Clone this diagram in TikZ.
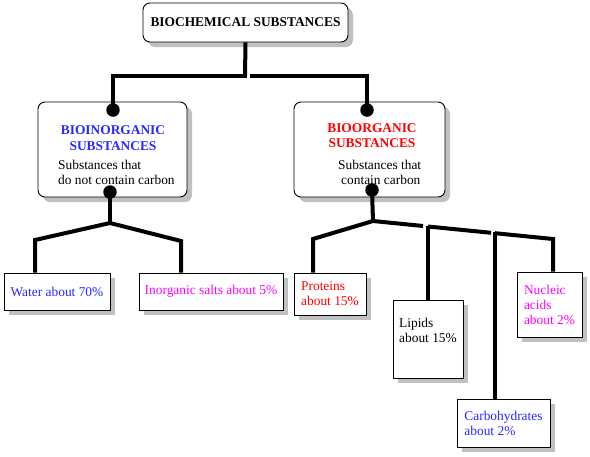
\documentclass[tikz,border=0pt]{standalone}
\usepackage{fontspec}
\setmainfont{Liberation Serif}
\usetikzlibrary{shadows}
\definecolor{shd}{RGB}{192,192,192}
\definecolor{tblue}{RGB}{40,40,255}
\definecolor{tmag}{RGB}{255,0,255}
\definecolor{tred}{RGB}{255,0,0}
\begin{document}
\begin{tikzpicture}[x=1pt,y=-1pt,
  font=\fontsize{13.4}{15}\selectfont,
  shadowed/.style={drop shadow={shadow xshift=5pt,shadow yshift=-5pt,fill=shd,opacity=1}},
  bigbox/.style={draw=black,line width=0.9pt,rounded corners=7pt,fill=white,shadowed,inner sep=0pt},
  smallbox/.style={draw=black,line width=0.9pt,fill=white,shadowed,inner sep=2pt,align=left},
  branch/.style={line width=4pt},
  dot/.style={circle,fill=black,inner sep=0pt,minimum size=13.5pt},
  titletext/.style={font=\fontsize{13.4}{16}\selectfont\bfseries,align=center,inner sep=0pt},
  subtext/.style={anchor=west,align=left,inner sep=0pt}
]
\useasboundingbox (0,0) rectangle (590,456);

% boxes
\node[bigbox,minimum width=205pt,minimum height=39pt] (top) at (245.5,22.5) {\textbf{BIOCHEMICAL SUBSTANCES}};
\node[bigbox,minimum width=149pt,minimum height=95pt] (inorg) at (112.5,149.5) {};
\node[bigbox,minimum width=151pt,minimum height=95pt] (org) at (369.5,149.5) {};

\node[titletext,text=tblue] (inorgt) at (113,138.5) {BIOINORGANIC\\SUBSTANCES};
\node[subtext] (inorgs) at (58,172.5) {Substances that\\do not contain carbon};
\node[titletext,text=tred,font=\fontsize{13.4}{15}\selectfont\bfseries] (orgt) at (372,135.5) {BIOORGANIC\\SUBSTANCES};
\node[subtext] (orgs) at (338,172.5) {Substances that\\\hspace*{3pt}contain carbon};

\node[smallbox,minimum width=106pt,minimum height=37pt,text=tblue] (water) at (57,291.5) {Water about 70\%};
\node[smallbox,minimum width=144pt,minimum height=37pt,text=tmag] (salts) at (211,291.5) {Inorganic salts about 5\%};
\node[smallbox,minimum width=72pt,minimum height=42pt,text=tred] (prot) at (330,294) {Proteins\\about 15\%};
\node[smallbox,minimum width=70pt,minimum height=78pt] (lip) at (428,339) {Lipids\\about 15\%\\[2pt]\mbox{}};
\node[smallbox,minimum width=65pt,minimum height=65pt,text=tmag] (nuc) at (549.5,304.5) {Nucleic\\acids\\about 2\%};
\node[smallbox,minimum width=93pt,minimum height=48pt,text=tblue] (carb) at (503.5,423) {Carbohydrates\\about 2\%};

% dots
\node[dot] (d1) at (113,110) {};
\node[dot] (d2) at (367,110) {};
\node[dot] (d3) at (110,192) {};
\node[dot] (d4) at (372,190) {};

% top tree
\coordinate (hj) at (245,76);
\coordinate (hjl) at (247,76);
\coordinate (hjr) at (250,76);
\coordinate (hl) at (113,76);
\coordinate (hr) at (367,76);
\draw[branch] (top.south) -- (hj);
\draw[branch] (d1.center) -- (hl) -- (hjl);
\draw[branch] (hjr) -- (hr) -- (d2.center);

% left tree
\coordinate (lj) at (110,223);
\coordinate (ll) at (35,240);
\coordinate (lr) at (181,241);
\draw[branch] (d3.center) -- (lj);
\draw[branch] (ll |- water.north) -- (ll) -- (lj) -- (lr) -- (lr |- salts.north);

% right tree
\coordinate (rj) at (373,221);
\coordinate (rl) at (313,239);
\coordinate (rr) at (553,239);
\coordinate (g1a) at (423,226);
\coordinate (g1b) at (428,226.5);
\coordinate (g2a) at (491,232.8);
\coordinate (g2b) at (495,233.2);
\draw[branch] (d4.center) -- (rj);
\draw[branch] (rl |- prot.north) -- (rl) -- (rj) -- (g1a);
\draw[branch] (g1b) -- (g2a);
\draw[branch] (g2b) -- (rr) -- (rr |- nuc.north);
\draw[branch] ([yshift=1pt]g1b) -- (g1b |- lip.north);
\draw[branch] ([yshift=1pt]g2b) -- (g2b |- carb.north);
\end{tikzpicture}
\end{document}
